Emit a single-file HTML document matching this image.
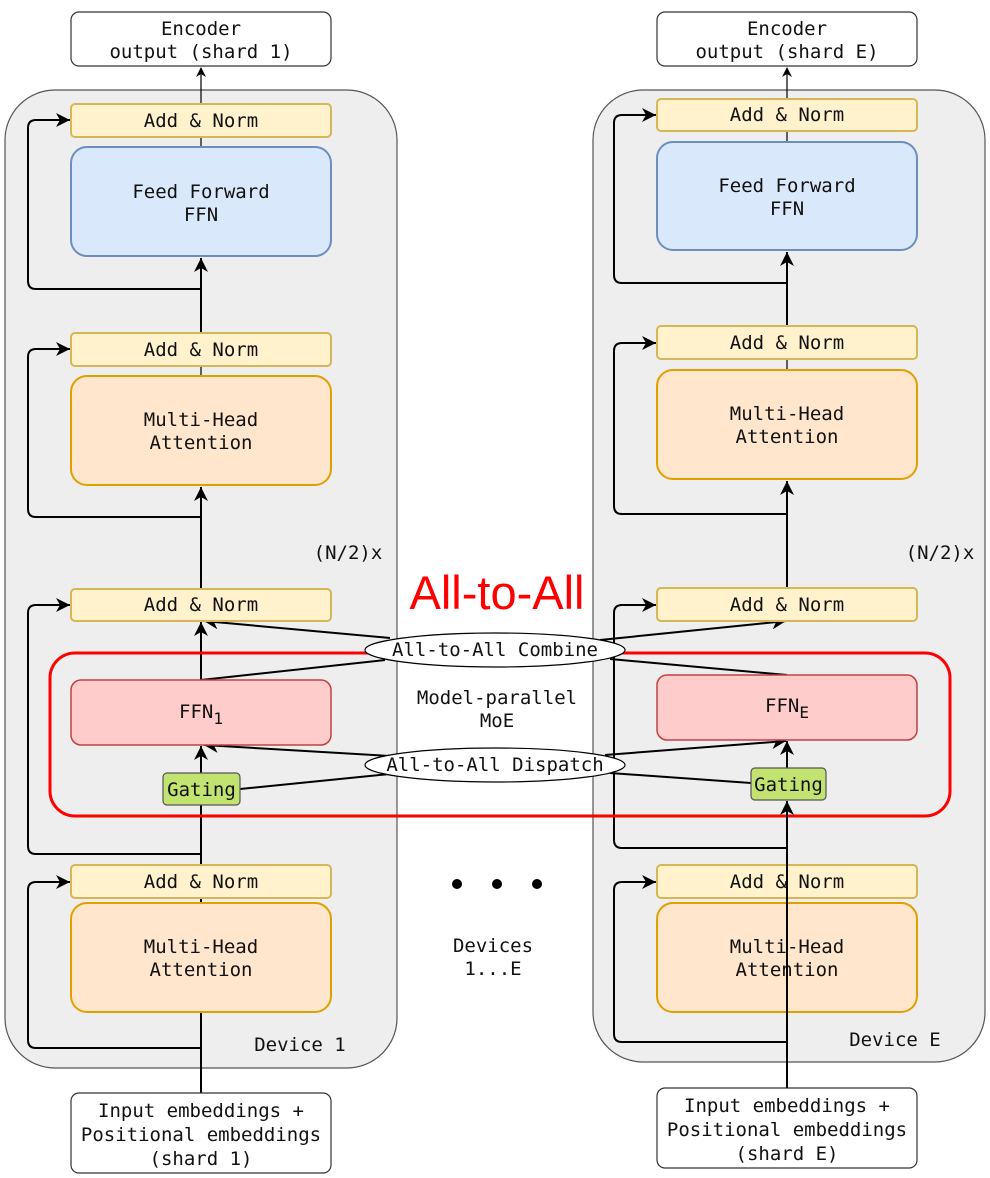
<!DOCTYPE html>
<html><head><meta charset="utf-8"><style>
body{margin:0;background:#fff}
svg{display:block}
text{font-family:"DejaVu Sans Mono","Liberation Mono",monospace;font-size:19px;fill:#111;text-anchor:middle}
</style></head><body>
<svg width="990" height="1178" viewBox="0 0 990 1178" xmlns="http://www.w3.org/2000/svg">
<defs>
<marker id="a" markerWidth="10" markerHeight="10" refX="9" refY="5" orient="auto" markerUnits="userSpaceOnUse"><path d="M0,0 L10,5 L0,10 L3,5 Z" fill="#000"/></marker>
<marker id="b" markerWidth="16" markerHeight="14" refX="14" refY="7" orient="auto" markerUnits="userSpaceOnUse"><path d="M0,0 L14,7 L0,14 L4,7 Z" fill="#000"/></marker>
</defs>
<rect x="5" y="90" width="392" height="978" rx="50" fill="#eeeeee" stroke="#555" stroke-width="1.2"/>
<rect x="593" y="90" width="392" height="972" rx="50" fill="#eeeeee" stroke="#555" stroke-width="1.2"/>

<g stroke="#000" stroke-width="2" fill="none">
<line x1="201" y1="104" x2="201" y2="68" stroke-width="1.2" marker-end="url(#a)"/>
<line x1="201" y1="147" x2="201" y2="137" stroke-width="1.2"/>
<line x1="201" y1="333" x2="201" y2="258" marker-end="url(#b)"/>
<path d="M201,289 H36 Q28,289 28,281 V128 Q28,120 36,120 H70" marker-end="url(#b)"/>
<line x1="201" y1="376" x2="201" y2="366" stroke-width="1.2"/>
<line x1="201" y1="589" x2="201" y2="487" marker-end="url(#b)"/>
<path d="M201,517 H36 Q28,517 28,509 V357 Q28,349 36,349 H70" marker-end="url(#b)"/>
<line x1="201" y1="680" x2="201" y2="622" marker-end="url(#b)"/>
<line x1="201" y1="773" x2="201" y2="746" marker-end="url(#b)"/>
<line x1="201" y1="1093" x2="201" y2="805"/>
<path d="M201,854 H36 Q28,854 28,846 V613 Q28,605 36,605 H70" marker-end="url(#b)"/>
<path d="M201,1048 H36 Q28,1048 28,1040 V890 Q28,882 36,882 H70" marker-end="url(#b)"/>
<line x1="787" y1="99" x2="787" y2="68" stroke-width="1.2" marker-end="url(#a)"/>
<line x1="787" y1="142" x2="787" y2="131" stroke-width="1.2"/>
<line x1="787" y1="326" x2="787" y2="252" marker-end="url(#b)"/>
<path d="M787,283 H622 Q614,283 614,275 V123 Q614,115 622,115 H656" marker-end="url(#b)"/>
<line x1="787" y1="370" x2="787" y2="359" stroke-width="1.2"/>
<line x1="787" y1="589" x2="787" y2="481" marker-end="url(#b)"/>
<path d="M787,514 H622 Q614,514 614,506 V351 Q614,343 622,343 H656" marker-end="url(#b)"/>
<line x1="787" y1="768" x2="787" y2="741" marker-end="url(#b)"/>
<path d="M787,848 H622 Q614,848 614,840 V613 Q614,605 622,605 H656" marker-end="url(#b)"/>
<path d="M787,1042 H622 Q614,1042 614,1034 V890 Q614,882 622,882 H656" marker-end="url(#b)"/>
<line x1="390" y1="638" x2="204" y2="621" marker-end="url(#b)"/>
<line x1="201" y1="680" x2="385" y2="660"/>
<line x1="600" y1="640" x2="786" y2="621" marker-end="url(#b)"/>
<line x1="610" y1="659" x2="787" y2="675"/>
<line x1="390" y1="756" x2="204" y2="745" marker-end="url(#b)"/>
<line x1="240" y1="789" x2="390" y2="774"/>
<line x1="605" y1="755" x2="786" y2="741" marker-end="url(#b)"/>
<line x1="610" y1="773" x2="751" y2="783"/>
</g>

<rect x="50" y="653" width="900" height="163" rx="25" fill="none" stroke="#ff0000" stroke-width="3"/>

<rect x="71" y="12" width="260" height="54" rx="8" fill="#fff" stroke="#333" stroke-width="1.2"/>
<text x="201" y="35">Encoder</text><text x="201" y="58">output (shard 1)</text>
<rect x="71" y="104" width="260" height="33" rx="4" fill="#fff2cc" stroke="#d6b656" stroke-width="2"/>
<text x="201" y="127">Add &amp; Norm</text>
<rect x="71" y="147" width="260" height="109" rx="16" fill="#dae8fc" stroke="#6c8ebf" stroke-width="2"/>
<text x="201" y="198">Feed Forward</text><text x="201" y="221">FFN</text>
<rect x="71" y="333" width="260" height="33" rx="4" fill="#fff2cc" stroke="#d6b656" stroke-width="2"/>
<text x="201" y="356">Add &amp; Norm</text>
<rect x="71" y="376" width="260" height="109" rx="16" fill="#ffe6cc" stroke="#e0a000" stroke-width="2"/>
<text x="201" y="426">Multi-Head</text><text x="201" y="449">Attention</text>
<rect x="71" y="589" width="260" height="32" rx="4" fill="#fff2cc" stroke="#d6b656" stroke-width="2"/>
<text x="201" y="611">Add &amp; Norm</text>
<rect x="71" y="680" width="260" height="65" rx="10" fill="#ffcccc" stroke="#c04040" stroke-width="1.5"/>
<text x="201" y="718">FFN<tspan font-size="16" dy="6">1</tspan></text>
<rect x="163" y="773" width="77" height="32" rx="4" fill="#c2e36f" stroke="#555" stroke-width="1.2"/>
<text x="201.5" y="796">Gating</text>
<rect x="71" y="865" width="260" height="33" rx="4" fill="#fff2cc" stroke="#d6b656" stroke-width="2"/>
<text x="201" y="888">Add &amp; Norm</text>
<rect x="71" y="903" width="260" height="109" rx="16" fill="#ffe6cc" stroke="#e0a000" stroke-width="2"/>
<text x="201" y="953">Multi-Head</text><text x="201" y="976">Attention</text>
<rect x="71" y="1093" width="260" height="80" rx="8" fill="#fff" stroke="#333" stroke-width="1.2"/>
<text x="201" y="1117">Input embeddings +</text><text x="201" y="1141">Positional embeddings</text><text x="201" y="1165">(shard 1)</text>
<text x="300" y="1051">Device 1</text>
<text x="348" y="559">(N/2)x</text>

<rect x="657" y="12" width="260" height="54" rx="8" fill="#fff" stroke="#333" stroke-width="1.2"/>
<text x="787" y="35">Encoder</text><text x="787" y="58">output (shard E)</text>
<rect x="657" y="99" width="260" height="32" rx="4" fill="#fff2cc" stroke="#d6b656" stroke-width="2"/>
<text x="787" y="121">Add &amp; Norm</text>
<rect x="657" y="142" width="260" height="108" rx="16" fill="#dae8fc" stroke="#6c8ebf" stroke-width="2"/>
<text x="787" y="192">Feed Forward</text><text x="787" y="215">FFN</text>
<rect x="657" y="326" width="260" height="33" rx="4" fill="#fff2cc" stroke="#d6b656" stroke-width="2"/>
<text x="787" y="349">Add &amp; Norm</text>
<rect x="657" y="370" width="260" height="109" rx="16" fill="#ffe6cc" stroke="#e0a000" stroke-width="2"/>
<text x="787" y="420">Multi-Head</text><text x="787" y="443">Attention</text>
<rect x="657" y="588" width="260" height="33" rx="4" fill="#fff2cc" stroke="#d6b656" stroke-width="2"/>
<text x="787" y="611">Add &amp; Norm</text>
<rect x="657" y="675" width="260" height="65" rx="10" fill="#ffcccc" stroke="#c04040" stroke-width="1.5"/>
<text x="787" y="712">FFN<tspan font-size="16" dy="6">E</tspan></text>
<rect x="751" y="768" width="75" height="32" rx="4" fill="#c2e36f" stroke="#555" stroke-width="1.2"/>
<text x="788.5" y="791">Gating</text>
<rect x="657" y="865" width="260" height="33" rx="4" fill="#fff2cc" stroke="#d6b656" stroke-width="2"/>
<text x="787" y="888">Add &amp; Norm</text>
<rect x="657" y="903" width="260" height="109" rx="16" fill="#ffe6cc" stroke="#e0a000" stroke-width="2"/>
<text x="787" y="953">Multi-Head</text><text x="787" y="976">Attention</text>
<rect x="657" y="1088" width="260" height="80" rx="8" fill="#fff" stroke="#333" stroke-width="1.2"/>
<text x="787" y="1112">Input embeddings +</text><text x="787" y="1136">Positional embeddings</text><text x="787" y="1160">(shard E)</text>
<text x="895" y="1046">Device E</text>
<text x="940" y="559">(N/2)x</text>

<line x1="787" y1="1088" x2="787" y2="801" stroke="#000" stroke-width="2" marker-end="url(#b)"/>
<ellipse cx="495" cy="650" rx="130" ry="17" fill="#fff" stroke="#000" stroke-width="1.2"/>
<text x="495" y="656">All-to-All Combine</text>
<ellipse cx="495" cy="765" rx="130" ry="17" fill="#fff" stroke="#000" stroke-width="1.2"/>
<text x="495" y="771">All-to-All Dispatch</text>
<text x="497" y="609" style="font-family:'Liberation Sans',sans-serif;font-size:47px;fill:#ff0000">All-to-All</text>
<text x="497" y="704">Model-parallel</text><text x="497" y="727">MoE</text>
<circle cx="457" cy="884" r="5" fill="#000"/><circle cx="497" cy="884" r="5" fill="#000"/><circle cx="537" cy="884" r="5" fill="#000"/>
<text x="493" y="952">Devices</text><text x="493" y="975">1...E</text>
</svg>
</body></html>
